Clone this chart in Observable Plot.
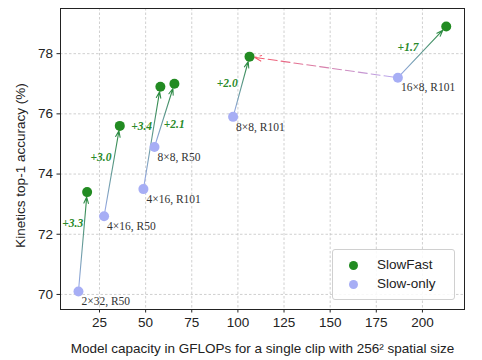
<!DOCTYPE html>
<html>
<head>
<meta charset="utf-8">
<script src="https://cdn.jsdelivr.net/npm/d3@7"></script>
<script src="https://cdn.jsdelivr.net/npm/@observablehq/plot@0.6"></script>
<style>
  body { margin: 0; background: white; }
  #wrap { position: relative; width: 482px; height: 360px; }
  #legend { position: absolute; left: 332px; top: 249px; width: 121px; height: 49px;
    border: 1px solid #d0d0d0; border-radius: 3px; background: rgba(255,255,255,0.85);
    font-family: "Liberation Sans", Arial, sans-serif; font-size: 13.5px; color: #222; }
  .item { position: absolute; left: 0; height: 16px; line-height: 16px; }
  .sw { position: absolute; left: 16px; top: 4px; width: 9px; height: 9px; border-radius: 50%; }
  .lb { position: absolute; left: 44px; top: 0; white-space: nowrap; }
</style>
</head>
<body>
<div id="wrap"></div>
<script>
// ---- data ----
const configs = ["2×32, R50", "4×16, R50", "4×16, R101", "8×8, R50", "8×8, R101", "16×8, R101"];
const slowGflops = [13.6, 27.5, 48.8, 54.8, 97.4, 186.7];
const slowAcc = [70.1, 72.6, 73.5, 74.9, 75.9, 77.2];
const fastGflops = [18.3, 36.0, 58.0, 65.6, 106.3, 212.9];
const fastAcc = [73.4, 75.6, 76.9, 77.0, 77.9, 78.9];
const gains = ["+3.3", "+3.0", "+3.4", "+2.1", "+2.0", "+1.7"];
const gainX = [16.2, 31.5, 53.5, 59.8, 99.9, 197.9];
const gainY = [72.35, 74.56, 75.59, 75.64, 77.02, 78.22];
const gainSide = ["end", "end", "end", "start", "end", "end"];
const xTicks = [25, 50, 75, 100, 125, 150, 175, 200];
const yTicks = [70, 72, 74, 76, 78];
const seriesNames = ["SlowFast", "Slow-only"];
const xLabel = "Model capacity in GFLOPs for a single clip with 256² spatial size";
const yLabel = "Kinetics top-1 accuracy (%)";
// dashed comparison: slow 16×8 R101 -> SlowFast 8×8 R101
const cmpFrom = 5, cmpTo = 4;

const fastColor = "#228b22";
const slowColor = "#a7aef5";
const idx = d3.range(configs.length);

const serif = "Liberation Serif, Times New Roman, serif";

const svg = Plot.plot({
  width: 482,
  height: 360,
  marginLeft: 60,
  marginRight: 18,
  marginTop: 8,
  marginBottom: 51,
  style: { fontFamily: "Liberation Sans, Arial, sans-serif", fontSize: "13.5px", color: "#222", background: "white" },
  x: { domain: [3.87, 222.8] },
  y: { domain: [69.5, 79.5] },
  marks: [
    Plot.gridX(xTicks, { stroke: "#c4c4c4", strokeOpacity: 1, strokeDasharray: "2.5,2", strokeWidth: 0.8 }),
    Plot.gridY(yTicks, { stroke: "#c4c4c4", strokeOpacity: 1, strokeDasharray: "2.5,2", strokeWidth: 0.8 }),
    Plot.axisX(xTicks, { tickSize: 3.5, tickPadding: 4, label: null, fontSize: 13.5 }),
    Plot.axisY(yTicks, { tickSize: 3.5, tickPadding: 4, label: null, fontSize: 13.5 }),
    Plot.arrow(idx, {
      x1: i => slowGflops[i], y1: i => slowAcc[i],
      x2: i => fastGflops[i], y2: i => fastAcc[i],
      stroke: "url(#gUp)", strokeWidth: 1.1, headLength: 9, headAngle: 40, insetEnd: 5
    }),
    Plot.arrow([cmpFrom], {
      x1: i => slowGflops[i], y1: i => slowAcc[i],
      x2: () => fastGflops[cmpTo], y2: () => fastAcc[cmpTo],
      stroke: "url(#gCmp)", strokeWidth: 1.1, strokeDasharray: "9,4", headLength: 10, headAngle: 45,
      insetStart: 5, insetEnd: 5
    }),
    Plot.dot(idx, { x: i => slowGflops[i], y: i => slowAcc[i], r: 5, fill: slowColor }),
    Plot.dot(idx, { x: i => fastGflops[i], y: i => fastAcc[i], r: 5, fill: fastColor }),
    Plot.text(idx, {
      x: i => slowGflops[i], y: i => slowAcc[i], text: i => configs[i],
      textAnchor: "start", dx: 3, dy: 10, fontFamily: serif, fontSize: 11.5, fill: "#333"
    }),
    Plot.text(idx.filter(i => gainSide[i] === "end"), {
      x: i => gainX[i], y: i => gainY[i], text: i => gains[i],
      textAnchor: "end", fontFamily: serif, fontSize: 11.5, fontWeight: "bold", fontStyle: "italic", fill: "#2a8a2a"
    }),
    Plot.text(idx.filter(i => gainSide[i] === "start"), {
      x: i => gainX[i], y: i => gainY[i], text: i => gains[i],
      textAnchor: "start", fontFamily: serif, fontSize: 11.5, fontWeight: "bold", fontStyle: "italic", fill: "#2a8a2a"
    }),
    Plot.text([xLabel], { frameAnchor: "bottom", dy: 43, text: d => d, textAnchor: "middle", fontSize: 13.5, fill: "#222" }),
    Plot.text([yLabel], { frameAnchor: "left", dx: -40, dy: 6.5, rotate: -90, textAnchor: "middle", text: d => d, fontSize: 13.5, fill: "#222" }),
    Plot.frame({ stroke: "#222", strokeWidth: 1 })
  ]
});

// gradients for arrow strokes
const defs = d3.select(svg).insert("defs", ":first-child");
const gUp = defs.append("linearGradient").attr("id", "gUp")
  .attr("x1", 0).attr("y1", 1).attr("x2", 0).attr("y2", 0);
gUp.append("stop").attr("offset", "0%").attr("stop-color", "#9eaaf0");
gUp.append("stop").attr("offset", "100%").attr("stop-color", "#2a8a3e");
const gCmp = defs.append("linearGradient").attr("id", "gCmp")
  .attr("x1", 0).attr("y1", 0).attr("x2", 1).attr("y2", 0);
gCmp.append("stop").attr("offset", "0%").attr("stop-color", "#f5586a");
gCmp.append("stop").attr("offset", "100%").attr("stop-color", "#b9a8ee");

const wrap = document.getElementById("wrap");
wrap.appendChild(svg);

// legend
const legend = document.createElement("div");
legend.id = "legend";
const colors = [fastColor, slowColor];
seriesNames.forEach((name, k) => {
  const item = document.createElement("div");
  item.className = "item";
  item.style.top = (7 + k * 19) + "px";
  item.style.width = "100%";
  const sw = document.createElement("div");
  sw.className = "sw";
  sw.style.background = colors[k];
  const lb = document.createElement("div");
  lb.className = "lb";
  lb.textContent = name;
  item.appendChild(sw);
  item.appendChild(lb);
  legend.appendChild(item);
});
wrap.appendChild(legend);
</script>
</body>
</html>
